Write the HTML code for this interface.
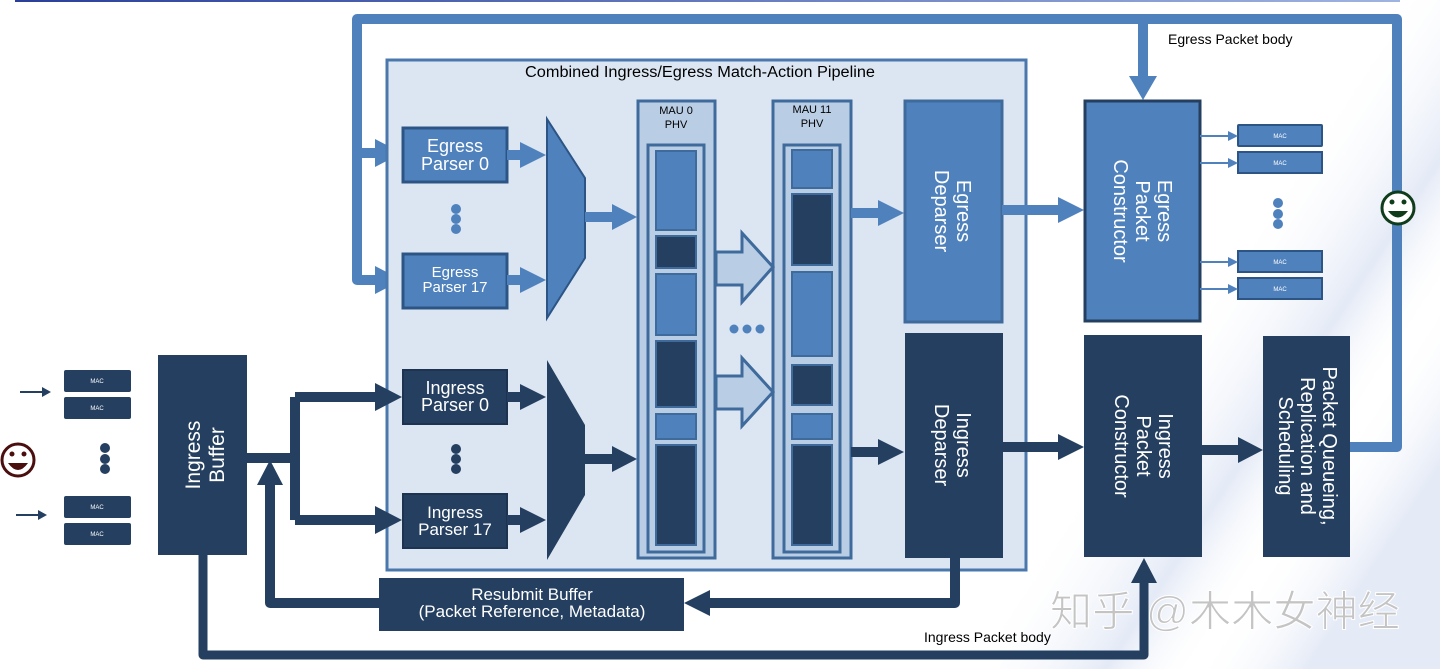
<!DOCTYPE html>
<html><head><meta charset="utf-8"><style>
html,body{margin:0;padding:0;background:#fff;}
svg{display:block;}
text{font-family:"Liberation Sans",Arial,sans-serif;}
</style></head><body>
<svg width="1440" height="669" viewBox="0 0 1440 669" xmlns="http://www.w3.org/2000/svg">
<defs>
<linearGradient id="tl" x1="0" x2="1" y1="0" y2="0"><stop offset="0" stop-color="#2a3f9a"/><stop offset="1" stop-color="#9fb4e0"/></linearGradient>
<linearGradient id="bg" x1="0" y1="0" x2="1" y2="1">
<stop offset="0.45" stop-color="#ffffff" stop-opacity="0"/><stop offset="0.62" stop-color="#e4eaf6"/><stop offset="0.72" stop-color="#ffffff" stop-opacity="0"/><stop offset="0.85" stop-color="#e4eaf6"/></linearGradient>
</defs>
<rect x="1000" y="0" width="440" height="669" fill="url(#bg)"/>
<rect x="15" y="0" width="1385" height="2" fill="url(#tl)"/>

<!-- egress loop -->
<path d="M1323 447 H1397 V19 H357 V280 H380" fill="none" stroke="#4f81bd" stroke-width="10" stroke-linejoin="round"/>
<path d="M357 153 H380" stroke="#4f81bd" stroke-width="10"/>
<polygon points="375,139 402,153 375,167" fill="#4f81bd"/>
<polygon points="375,266 402,280 375,294" fill="#4f81bd"/>
<path d="M1143 19 V78" stroke="#4f81bd" stroke-width="10"/>
<polygon points="1129,76 1157,76 1143,100" fill="#4f81bd"/>
<text x="1168" y="44" font-size="14" fill="#000">Egress Packet body</text>

<!-- pipeline -->
<rect x="387" y="60" width="639" height="510" fill="#dce6f2" stroke="#4a78ad" stroke-width="3"/>
<text x="700" y="77" font-size="15.5" text-anchor="middle" fill="#000" textLength="350" lengthAdjust="spacingAndGlyphs">Combined Ingress/Egress Match-Action Pipeline</text>

<!-- egress parsers -->
<rect x="403" y="128" width="104" height="54" fill="#4f81bd" stroke="#2c5585" stroke-width="3"/>
<text x="455" y="152" font-size="18" fill="#fff" text-anchor="middle">Egress</text>
<text x="455" y="170" font-size="18" fill="#fff" text-anchor="middle">Parser 0</text>
<rect x="403" y="254" width="104" height="54" fill="#4f81bd" stroke="#2c5585" stroke-width="3"/>
<text x="455" y="277" font-size="15" fill="#fff" text-anchor="middle">Egress</text>
<text x="455" y="292" font-size="15" fill="#fff" text-anchor="middle">Parser  17</text>
<circle cx="456" cy="209" r="5" fill="#4f81bd"/><circle cx="456" cy="219" r="5" fill="#4f81bd"/><circle cx="456" cy="229" r="5" fill="#4f81bd"/>
<path d="M507 155 H525 M507 280 H525" stroke="#4f81bd" stroke-width="10"/>
<polygon points="520,142 546,155 520,168" fill="#4f81bd"/>
<polygon points="520,267 546,280 520,293" fill="#4f81bd"/>
<polygon points="547,119 585,178 585,258 547,318" fill="#4f81bd" stroke="#2c5585" stroke-width="2"/>
<path d="M585 217 H615" stroke="#4f81bd" stroke-width="10"/>
<polygon points="612,204 637,217 612,230" fill="#4f81bd"/>

<!-- ingress parsers -->
<rect x="403" y="370" width="104" height="54" fill="#243f60" stroke="#1d3350" stroke-width="2"/>
<text x="455" y="394" font-size="18" fill="#fff" text-anchor="middle">Ingress</text>
<text x="455" y="411" font-size="18" fill="#fff" text-anchor="middle">Parser 0</text>
<rect x="403" y="494" width="104" height="54" fill="#243f60" stroke="#1d3350" stroke-width="2"/>
<text x="455" y="518" font-size="17" fill="#fff" text-anchor="middle">Ingress</text>
<text x="455" y="535" font-size="17" fill="#fff" text-anchor="middle">Parser 17</text>
<circle cx="456" cy="449" r="5" fill="#243f60"/><circle cx="456" cy="459" r="5" fill="#243f60"/><circle cx="456" cy="469" r="5" fill="#243f60"/>
<path d="M507 397 H525 M507 520 H525" stroke="#243f60" stroke-width="10"/>
<polygon points="520,384 546,397 520,410" fill="#243f60"/>
<polygon points="520,507 546,520 520,533" fill="#243f60"/>
<polygon points="547,360 585,425 585,495 547,560" fill="#243f60"/>
<path d="M585 459 H615" stroke="#243f60" stroke-width="10"/>
<polygon points="612,446 637,459 612,472" fill="#243f60"/>

<!-- MAU 0 -->
<rect x="638" y="101" width="77" height="457" fill="#b9cde5" stroke="#3f6a9c" stroke-width="3"/>
<text x="676" y="114" font-size="11" text-anchor="middle">MAU 0</text>
<text x="676" y="128" font-size="11" text-anchor="middle">PHV</text>
<rect x="648" y="145" width="56" height="407" fill="#b9cde5" stroke="#3f6a9c" stroke-width="3"/>
<g stroke="#3f6a9c" stroke-width="2">
<rect x="656" y="151" width="40" height="79" fill="#4f81bd"/>
<rect x="656" y="236" width="40" height="32" fill="#243f60"/>
<rect x="656" y="274" width="40" height="61" fill="#4f81bd"/>
<rect x="656" y="341" width="40" height="66" fill="#243f60"/>
<rect x="656" y="414" width="40" height="25" fill="#4f81bd"/>
<rect x="656" y="445" width="40" height="100" fill="#243f60"/>
</g>
<!-- MAU 11 -->
<rect x="773" y="101" width="78" height="457" fill="#b9cde5" stroke="#3f6a9c" stroke-width="3"/>
<text x="812" y="113" font-size="11" text-anchor="middle">MAU 11</text>
<text x="812" y="127" font-size="11" text-anchor="middle">PHV</text>
<rect x="784" y="145" width="56" height="407" fill="#b9cde5" stroke="#3f6a9c" stroke-width="3"/>
<g stroke="#3f6a9c" stroke-width="2">
<rect x="792" y="150" width="40" height="38" fill="#4f81bd"/>
<rect x="792" y="194" width="40" height="71" fill="#243f60"/>
<rect x="792" y="272" width="40" height="84" fill="#4f81bd"/>
<rect x="792" y="365" width="40" height="40" fill="#243f60"/>
<rect x="792" y="414" width="40" height="25" fill="#4f81bd"/>
<rect x="792" y="445" width="40" height="100" fill="#243f60"/>
</g>
<!-- hollow arrows -->
<polygon points="716,252 742,252 742,233 773,267 742,302 742,285 716,285" fill="#b9cde5" stroke="#3f6a9c" stroke-width="3"/>
<polygon points="716,376 742,376 742,358 773,392 742,426 742,409 716,409" fill="#b9cde5" stroke="#3f6a9c" stroke-width="3"/>
<circle cx="734" cy="329" r="4.5" fill="#4f81bd"/><circle cx="747" cy="329" r="4.5" fill="#4f81bd"/><circle cx="760" cy="329" r="4.5" fill="#4f81bd"/>

<!-- deparsers -->
<path d="M851 213 H882" stroke="#4f81bd" stroke-width="10"/>
<polygon points="878,200 904,213 878,226" fill="#4f81bd"/>
<rect x="905" y="101" width="97" height="221" fill="#4f81bd" stroke="#3f6a9c" stroke-width="3"/>
<text transform="translate(953,211) rotate(90)" font-size="20" fill="#fff" text-anchor="middle"><tspan x="0" dy="-4">Egress</tspan><tspan x="0" dy="22">Deparser</tspan></text>
<path d="M851 452 H882" stroke="#243f60" stroke-width="10"/>
<polygon points="878,439 904,452 878,465" fill="#243f60"/>
<rect x="905" y="333" width="98" height="225" fill="#243f60"/>
<text transform="translate(953,445) rotate(90)" font-size="20" fill="#fff" text-anchor="middle"><tspan x="0" dy="-4">Ingress</tspan><tspan x="0" dy="22">Deparser</tspan></text>

<!-- egress packet constructor -->
<path d="M1002 210 H1062" stroke="#4f81bd" stroke-width="10"/>
<polygon points="1058,197 1084,210 1058,223" fill="#4f81bd"/>
<rect x="1085" y="101" width="115" height="220" fill="#4f81bd" stroke="#243f60" stroke-width="3"/>
<text transform="translate(1141,211) rotate(90)" font-size="20" fill="#fff" text-anchor="middle"><tspan x="0" dy="-17">Egress</tspan><tspan x="0" dy="22">Packet</tspan><tspan x="0" dy="22">Constructor</tspan></text>
<g fill="#4f81bd" stroke="#2c5585" stroke-width="2">
<rect x="1238" y="125" width="84" height="21" rx="1"/><rect x="1238" y="152" width="84" height="21"/>
<rect x="1238" y="251" width="84" height="21"/><rect x="1238" y="278" width="84" height="21"/>
</g>
<g font-size="6" fill="#fff" text-anchor="middle"><text x="1280" y="138">MAC</text><text x="1280" y="165">MAC</text><text x="1280" y="264">MAC</text><text x="1280" y="291">MAC</text></g>
<g stroke="#4f81bd" stroke-width="2"><path d="M1200 136 H1232 M1200 163 H1232 M1200 262 H1232 M1200 289 H1232"/></g>
<g fill="#4f81bd"><polygon points="1228,131 1238,136 1228,141"/><polygon points="1228,158 1238,163 1228,168"/><polygon points="1228,257 1238,262 1228,267"/><polygon points="1228,284 1238,289 1228,294"/></g>
<circle cx="1278" cy="203" r="5" fill="#4f81bd"/><circle cx="1278" cy="214" r="5" fill="#4f81bd"/><circle cx="1278" cy="224" r="5" fill="#4f81bd"/>
<!-- green smiley -->
<circle cx="1398" cy="208" r="16" fill="#fff" stroke="#0f3d1c" stroke-width="3"/>
<circle cx="1392" cy="202" r="2.5" fill="#0f3d1c"/><circle cx="1404" cy="202" r="2.5" fill="#0f3d1c"/>
<path d="M1388 211 H1408 Q1398 224 1388 211 Z" fill="#0f3d1c"/>

<!-- ingress packet constructor -->
<path d="M1003 447 H1062" stroke="#243f60" stroke-width="10"/>
<polygon points="1058,434 1084,447 1058,460" fill="#243f60"/>
<rect x="1084" y="335" width="118" height="222" fill="#243f60"/>
<text transform="translate(1142,446) rotate(90)" font-size="20" fill="#fff" text-anchor="middle"><tspan x="0" dy="-17">Ingress</tspan><tspan x="0" dy="22">Packet</tspan><tspan x="0" dy="22">Constructor</tspan></text>
<path d="M1202 450 H1242" stroke="#243f60" stroke-width="10"/>
<polygon points="1238,437 1263,450 1238,463" fill="#243f60"/>
<rect x="1263" y="336" width="87" height="221" fill="#243f60"/>
<text transform="translate(1306,446) rotate(90)" font-size="20" fill="#fff" text-anchor="middle"><tspan x="0" dy="-17">Packet Queueing,</tspan><tspan x="0" dy="22">Replication and</tspan><tspan x="0" dy="22">Scheduling</tspan></text>

<!-- left side -->
<circle cx="18" cy="460" r="16" fill="#fff" stroke="#4a0e0e" stroke-width="3"/>
<circle cx="12" cy="454" r="2.5" fill="#4a0e0e"/><circle cx="24" cy="454" r="2.5" fill="#4a0e0e"/>
<path d="M8 463 H28 Q18 477 8 463 Z" fill="#4a0e0e"/>
<path d="M20 392 H44 M16 515 H40" stroke="#243f60" stroke-width="2"/>
<polygon points="42,387 51,392 42,397" fill="#243f60"/><polygon points="38,510 47,515 38,520" fill="#243f60"/>
<g fill="#243f60"><rect x="64" y="370" width="67" height="22" rx="2"/><rect x="64" y="397" width="67" height="22" rx="2"/><rect x="64" y="496" width="67" height="22" rx="2"/><rect x="64" y="523" width="67" height="22" rx="2"/></g>
<g font-size="6" fill="#fff" text-anchor="middle"><text x="97" y="383">MAC</text><text x="97" y="410">MAC</text><text x="97" y="509">MAC</text><text x="97" y="536">MAC</text></g>
<circle cx="105" cy="448" r="5" fill="#243f60"/><circle cx="105" cy="459" r="5" fill="#243f60"/><circle cx="105" cy="469" r="5" fill="#243f60"/>
<rect x="158" y="355" width="89" height="200" fill="#243f60"/>
<text transform="translate(203,455) rotate(-90)" font-size="21" fill="#fff" text-anchor="middle"><tspan x="0" dy="-3">Ingress</tspan><tspan x="0" dy="24">Buffer</tspan></text>
<path d="M247 458 H295 M295 397 V520 M295 397 H380 M295 520 H380" stroke="#243f60" stroke-width="10" fill="none" stroke-linejoin="round"/>
<polygon points="375,383 402,397 375,411" fill="#243f60"/>
<polygon points="375,506 402,520 375,534" fill="#243f60"/>
<!-- resubmit -->
<rect x="379" y="578" width="305" height="53" fill="#243f60"/>
<text x="532" y="600" font-size="17" fill="#fff" text-anchor="middle">Resubmit Buffer</text>
<text x="532" y="617" font-size="17" fill="#fff" text-anchor="middle">(Packet Reference, Metadata)</text>
<path d="M955 558 V603 H706" stroke="#243f60" stroke-width="10" fill="none" stroke-linejoin="round"/>
<polygon points="710,590 684,603 710,616" fill="#243f60"/>
<path d="M379 603 H270 V482" stroke="#243f60" stroke-width="10" fill="none" stroke-linejoin="round"/>
<polygon points="257,485 270,460 283,485" fill="#243f60"/>
<!-- bottom loop -->
<path d="M203 555 V655 H1144 V580" stroke="#243f60" stroke-width="9" fill="none" stroke-linejoin="round"/>
<polygon points="1131,583 1144,558 1157,583" fill="#243f60"/>
<text x="924" y="642" font-size="14" fill="#000">Ingress Packet body</text>
<!-- watermark -->
<text x="1050" y="626" font-size="42" fill="#c4c4c4" stroke="#ffffff" stroke-width="1" textLength="350" lengthAdjust="spacingAndGlyphs" font-family="'Noto Sans CJK SC','WenQuanYi Zen Hei',sans-serif">知乎 @木木女神经</text>
</svg>
</body></html>
